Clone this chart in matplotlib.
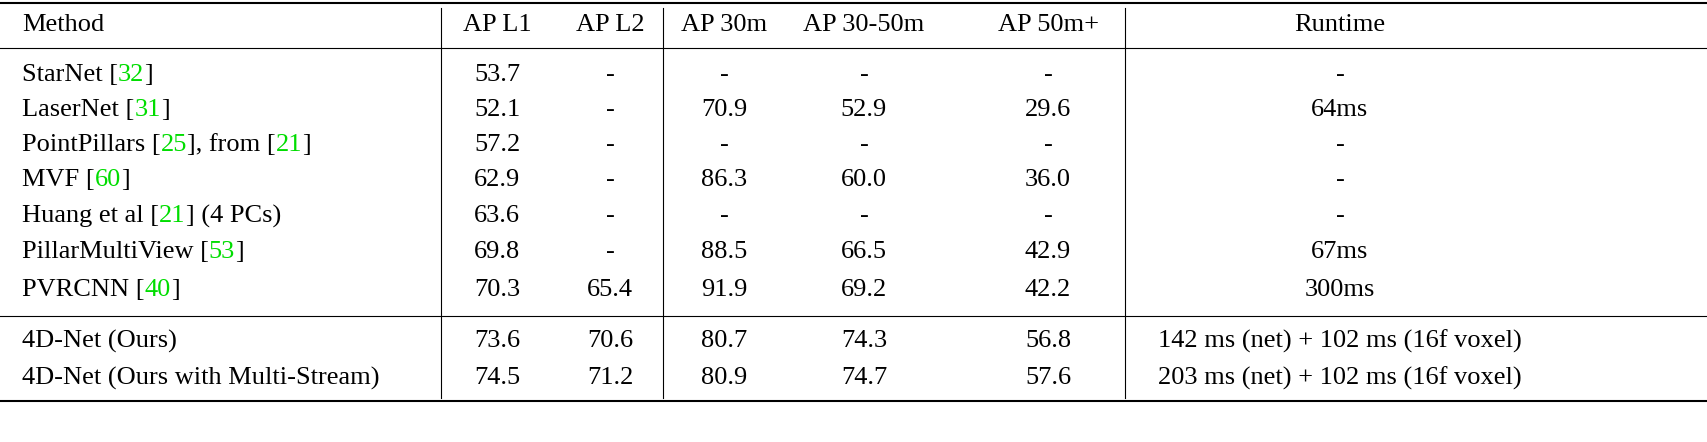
import matplotlib
matplotlib.use("Agg")
import matplotlib.pyplot as plt

methods = [
    [("StarNet [", 0), ("32", 1), ("]", 0)],
    [("LaserNet [", 0), ("31", 1), ("]", 0)],
    [("PointPillars [", 0), ("25", 1), ("], from [", 0), ("21", 1), ("]", 0)],
    [("MVF [", 0), ("60", 1), ("]", 0)],
    [("Huang et al [", 0), ("21", 1), ("] (4 PCs)", 0)],
    [("PillarMultiView [", 0), ("53", 1), ("]", 0)],
    [("PVRCNN [", 0), ("40", 1), ("]", 0)],
    [("4D-Net (Ours)", 0)],
    [("4D-Net (Ours with Multi-Stream)", 0)],
]
ap_l1 = ["53.7", "52.1", "57.2", "62.9", "63.6", "69.8", "70.3", "73.6", "74.5"]
ap_l2 = ["-", "-", "-", "-", "-", "-", "65.4", "70.6", "71.2"]
ap_30 = ["-", "70.9", "-", "86.3", "-", "88.5", "91.9", "80.7", "80.9"]
ap_3050 = ["-", "52.9", "-", "60.0", "-", "66.5", "69.2", "74.3", "74.7"]
ap_50 = ["-", "29.6", "-", "36.0", "-", "42.9", "42.2", "56.8", "57.6"]
runtime = ["-", "64ms", "-", "-", "-", "67ms", "300ms",
           "142 ms (net) + 102 ms (16f voxel)", "203 ms (net) + 102 ms (16f voxel)"]
headers = ["Method", "AP L1", "AP L2", "AP 30m", "AP 30-50m", "AP 50m+", "Runtime"]

W, H = 1707, 442
fig = plt.figure(figsize=(W/100, H/100), dpi=100)
ax = fig.add_axes([0, 0, 1, 1])
ax.set_xlim(0, W); ax.set_ylim(H, 0); ax.axis("off")
FONT = dict(family="Liberation Serif", fontsize=19)
GREEN = "#00dd00"

col_x = [497, 610, 724, 864, 1048, 1340]
head_y = 25
row_y = [75, 110, 145, 180, 216, 252, 290, 341, 378]

ax.text(22, head_y, headers[0], ha="left", va="center", **FONT)
for x, h in zip(col_x, headers[1:]):
    ax.text(x, head_y, h, ha="center", va="center", **FONT)

fig.canvas.draw()
r = fig.canvas.get_renderer()
for y, pieces in zip(row_y, methods):
    x = 22
    for s, cite in pieces:
        t = ax.text(x, y, s, ha="left", va="center", color=GREEN if cite else "black", **FONT)
        bb = t.get_window_extent(renderer=r)
        x += bb.width * (W / fig.bbox.width)
for i, y in enumerate(row_y):
    for x, col in zip(col_x, [ap_l1, ap_l2, ap_30, ap_3050, ap_50, runtime]):
        ax.text(x, y, col[i], ha="center", va="center", **FONT)

ax.plot([0, W], [3, 3], color="black", lw=1.5)
ax.plot([0, W], [48, 48], color="black", lw=0.8)
ax.plot([0, W], [316, 316], color="black", lw=0.8)
ax.plot([0, W], [401, 401], color="black", lw=1.5)
for x in [441, 663, 1125]:
    ax.plot([x, x], [8, 398], color="black", lw=0.8)

fig.savefig("out.png", dpi=100)
